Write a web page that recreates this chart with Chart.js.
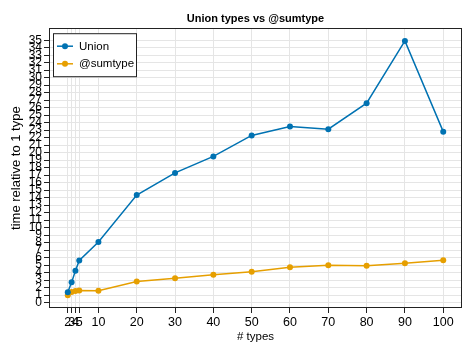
<!DOCTYPE html>
<html>
<head>
<meta charset="utf-8">
<script src="https://cdn.jsdelivr.net/npm/chart.js@4/dist/chart.umd.min.js"></script>
<style>
html,body{margin:0;padding:0;background:#fff;}
#wrap{width:474px;height:355px;}
</style>
</head>
<body>
<div id="wrap"><canvas id="c" width="474" height="355"></canvas></div>
<script>
const nTypes = [2, 3, 4, 5, 10, 20, 30, 40, 50, 60, 70, 80, 90, 100];
const unionTimes = [1.37, 2.7, 4.26, 5.63, 8.08, 14.34, 17.3, 19.5, 22.3, 23.48, 23.13, 26.6, 34.9, 22.8];
const sumtypeTimes = [0.97, 1.42, 1.55, 1.6, 1.58, 2.8, 3.24, 3.73, 4.13, 4.7, 4.97, 4.93, 5.24, 5.64];
const xTicks = [2, 3, 4, 5, 10, 20, 30, 40, 50, 60, 70, 80, 90, 100];
const yTicks = Array.from({length: 36}, (_, i) => i);
const seriesNames = ['Union', '@sumtype'];
const seriesColors = ['#0072B2', '#E69F00'];
const FONT = "'Liberation Sans', Arial, sans-serif";

const frameAndLegend = {
  id: 'frameAndLegend',
  afterDraw(chart) {
    const ctx = chart.ctx, a = chart.chartArea;
    ctx.save();
    ctx.strokeStyle = '#222';
    ctx.lineWidth = 1;
    ctx.strokeRect(Math.round(a.left) + 0.5, Math.round(a.top) + 0.5, Math.round(a.right - a.left) - 1, Math.round(a.bottom - a.top) - 1);
    // legend
    const lx = a.left + 4, ly = a.top + 5, lw = 83, lh = 43;
    ctx.fillStyle = '#fff';
    ctx.fillRect(lx, ly, lw, lh);
    ctx.strokeStyle = '#222';
    ctx.strokeRect(lx + 0.5, ly + 0.5, lw, lh);
    chart.data.datasets.forEach((ds, i) => {
      const y = ly + 13 + i * 17.6;
      ctx.strokeStyle = ds.borderColor;
      ctx.lineWidth = 1.5;
      ctx.beginPath();
      ctx.moveTo(lx + 4, y);
      ctx.lineTo(lx + 20, y);
      ctx.stroke();
      ctx.fillStyle = ds.borderColor;
      ctx.beginPath();
      ctx.arc(lx + 12, y, 3, 0, Math.PI * 2);
      ctx.fill();
      ctx.fillStyle = '#000';
      ctx.font = '11.5px ' + FONT;
      ctx.textBaseline = 'middle';
      ctx.textAlign = 'left';
      ctx.fillText(ds.label, lx + 26, y + 0.5);
    });
    ctx.restore();
  }
};

new Chart(document.getElementById('c'), {
  type: 'line',
  data: {
    datasets: [
      { label: seriesNames[0], data: nTypes.map((x, i) => ({x, y: unionTimes[i]})), borderColor: seriesColors[0], backgroundColor: seriesColors[0], borderWidth: 1.5, pointRadius: 3, pointBorderWidth: 0, tension: 0 },
      { label: seriesNames[1], data: nTypes.map((x, i) => ({x, y: sumtypeTimes[i]})), borderColor: seriesColors[1], backgroundColor: seriesColors[1], borderWidth: 1.5, pointRadius: 3, pointBorderWidth: 0, tension: 0 }
    ]
  },
  options: {
    responsive: false,
    animation: false,
    layout: { padding: { left: 0, right: 12, top: 0, bottom: 0 } },
    plugins: {
      legend: { display: false },
      tooltip: { enabled: false },
      title: {
        display: true, text: 'Union types vs @sumtype', fullSize: false,
        color: '#000', font: { family: FONT, size: 11, weight: 'bold' },
        padding: { top: 12, bottom: 3 }
      }
    },
    scales: {
      x: {
        type: 'linear', min: -2.9, max: 104.9,
        afterBuildTicks: s => { s.ticks = xTicks.map(v => ({value: v})); },
        afterFit: s => { s.height = 47; },
        grid: { color: '#e5e5e5', lineWidth: 1, drawTicks: true, tickLength: 5, tickColor: '#222' },
        border: { display: false },
        ticks: { autoSkip: false, maxRotation: 0, color: '#000', padding: 2, font: { family: FONT, size: 12.5 } },
        title: { display: true, text: '# types', color: '#000', font: { family: FONT, size: 11.5 }, padding: { top: 0, bottom: 11 } }
      },
      y: {
        type: 'linear', min: -0.72, max: 36.6,
        afterBuildTicks: s => { s.ticks = yTicks.map(v => ({value: v})); },
        afterFit: s => { s.width = 49; },
        grid: { color: '#e5e5e5', lineWidth: 1, drawTicks: true, tickLength: 5, tickColor: '#222' },
        border: { display: false },
        ticks: { autoSkip: false, color: '#000', padding: 2, font: { family: FONT, size: 12 } },
        title: { display: true, text: 'time relative to 1 type', color: '#000', font: { family: FONT, size: 13 }, padding: { top: 9, bottom: 0 } }
      }
    }
  },
  plugins: [frameAndLegend]
});
</script>
</body>
</html>
